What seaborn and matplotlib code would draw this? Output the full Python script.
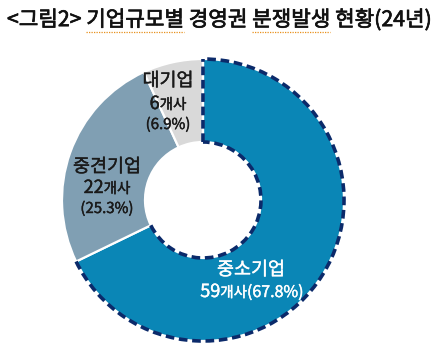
import matplotlib
matplotlib.use("Agg")
import matplotlib.pyplot as plt
import matplotlib.patheffects as pe
import seaborn as sns
import numpy as np
from matplotlib.patches import Arc
from matplotlib.lines import Line2D

# ---- data ----
categories = ["중소기업", "중견기업", "대기업"]
counts = [59, 22, 6]
shares = [67.8, 25.3, 6.9]
colors = ["#0a86b6", "#809fb3", "#d9d9d9"]
title = "<그림2> 기업규모별 경영권 분쟁발생 현황(24년)"

sns.set_theme(style="white")
plt.rcParams["font.family"] = ["Noto Sans CJK KR", "DejaVu Sans"]

W, H = 437, 355
DPI = 100
fig = plt.figure(figsize=(W / DPI, H / DPI), dpi=DPI)
ax = fig.add_axes([0, 0, 1, 1])

def Y(y):
    return H - y

cx, cy = 203, Y(200)
R_out, R_in = 141, 58
wedges, _ = ax.pie(counts, colors=colors, startangle=90, counterclock=False,
                   radius=R_out, center=(cx, cy),
                   wedgeprops=dict(width=R_out - R_in, edgecolor="white", linewidth=1.6))
ax.set_xlim(0, W)
ax.set_ylim(0, H)
ax.set_aspect("equal")
ax.axis("off")

# dashed outline for the largest slice (outer arc, inner arc, top radial edge)
navy = "#0b2a6a"
w0 = wedges[0]
t1, t2 = w0.theta1, w0.theta2
dash = (0, (2.4, 1.3))
for rr in (R_out, R_in):
    ax.add_patch(Arc((cx, cy), 2 * rr, 2 * rr, theta1=t1, theta2=t2,
                     edgecolor=navy, linewidth=2.6, linestyle=dash, zorder=4))
ang = np.deg2rad(t2)
ax.add_line(Line2D([cx + R_in * np.cos(ang), cx + R_out * np.cos(ang)],
                   [cy + R_in * np.sin(ang), cy + R_out * np.sin(ang)],
                   color=navy, linewidth=2.6, linestyle=dash, zorder=4))

renderer = fig.canvas.get_renderer()

def mixed(x, y, parts, color):
    widths = []
    for s, fs in parts:
        t = ax.text(0, 0, s, fontsize=fs)
        widths.append(t.get_window_extent(renderer).width)
        t.remove()
    off = -sum(widths) / 2
    for (s, fs), w in zip(parts, widths):
        ax.annotate(s, (x, Y(y)), xytext=(off * 72 / DPI, 0), textcoords="offset points",
                    ha="left", va="baseline", fontsize=fs, color=color, zorder=5,
                    path_effects=[pe.withStroke(linewidth=0.3, foreground=color)])
        off += w

dark = "#1a1a1a"
# 대기업
mixed(168, 86, [(categories[2], 13.3)], dark)
mixed(168, 109, [(str(counts[2]), 13), ("개사", 10.5)], dark)
mixed(168, 129, [(f"({shares[2]}%)", 10.8)], dark)
# 중견기업
mixed(107, 172, [(categories[1], 13.3)], dark)
mixed(107, 193, [(str(counts[1]), 13), ("개사", 10.5)], dark)
mixed(107, 213, [(f"({shares[1]}%)", 10.8)], dark)
# 중소기업
mixed(251, 275, [(categories[0], 13.3)], "white")
mixed(252, 297, [(str(counts[0]), 13), ("개사", 10.5), (f"({shares[0]}%)", 11.5)], "white")

# title
TFS = 15.3
tt = ax.text(7, Y(20), title, fontsize=TFS, color="#111111", ha="left", va="center",
             zorder=5, path_effects=[pe.withStroke(linewidth=0.5, foreground="#111111")])

def text_w(s, fs):
    t = ax.text(0, 0, s, fontsize=fs)
    w = t.get_window_extent(renderer).width
    t.remove()
    return w

# spell-check style dotted underlines under two words
x0 = 7
for pre, word in [("<그림2> ", "기업규모별"), ("<그림2> 기업규모별 경영권 ", "분쟁발생")]:
    a = x0 + text_w(pre, TFS)
    b = x0 + text_w(pre + word, TFS)
    ax.add_line(Line2D([a, b], [Y(32), Y(32)], color="#e8901c", linewidth=0.9,
                       linestyle=(0, (1, 1)), zorder=5))

fig.savefig("out.png", dpi=DPI)
